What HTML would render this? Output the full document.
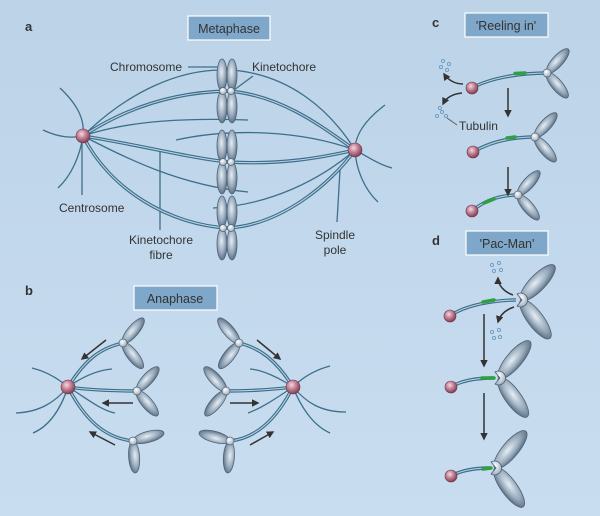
<!DOCTYPE html>
<html><head><meta charset="utf-8"><style>
html,body{margin:0;padding:0;}
body{width:600px;height:516px;overflow:hidden;background:#c6dbee;}
svg{display:block}
text{font-family:"Liberation Sans",sans-serif;fill:#333;}
</style></head><body>
<svg width="600" height="516" viewBox="0 0 600 516" xmlns="http://www.w3.org/2000/svg">
<defs>
<linearGradient id="bg" x1="0" y1="0" x2="0" y2="1"><stop offset="0" stop-color="#bcd3e8"/><stop offset="1" stop-color="#c9ddf0"/></linearGradient>
<radialGradient id="chr" cx="0.45" cy="0.4" r="0.6"><stop offset="0" stop-color="#e6eef5"/><stop offset="0.6" stop-color="#9aacbd"/><stop offset="1" stop-color="#5e7286"/></radialGradient>
<radialGradient id="pole" cx="0.4" cy="0.35" r="0.65"><stop offset="0" stop-color="#f4d8e0"/><stop offset="0.5" stop-color="#c27f94"/><stop offset="1" stop-color="#7e3f54"/></radialGradient>
<radialGradient id="kin" cx="0.4" cy="0.35" r="0.7"><stop offset="0" stop-color="#ffffff"/><stop offset="1" stop-color="#9aa9b6"/></radialGradient>
<marker id="ah" viewBox="0 0 10 10" refX="8" refY="5" markerWidth="5" markerHeight="5" orient="auto"><path d="M0,0 L10,5 L0,10 z" fill="#333"/></marker>
<g id="arm"><ellipse cx="16" cy="0" rx="16" ry="5.5" fill="url(#chr)" stroke="#4f6376" stroke-width="0.8"/></g>
<g id="armL"><ellipse cx="24" cy="0" rx="24" ry="8" fill="url(#chr)" stroke="#4f6376" stroke-width="0.8"/></g>
<g id="mchr">
<ellipse cx="-5" cy="-16" rx="5" ry="16" fill="url(#chr)" stroke="#4f6376" stroke-width="0.8"/>
<ellipse cx="5" cy="-16" rx="5" ry="16" fill="url(#chr)" stroke="#4f6376" stroke-width="0.8"/>
<ellipse cx="-5" cy="16" rx="5" ry="16" fill="url(#chr)" stroke="#4f6376" stroke-width="0.8"/>
<ellipse cx="5" cy="16" rx="5" ry="16" fill="url(#chr)" stroke="#4f6376" stroke-width="0.8"/>
<circle cx="-4" cy="0" r="3.5" fill="url(#kin)" stroke="#4f6376" stroke-width="0.7"/>
<circle cx="4" cy="0" r="3.5" fill="url(#kin)" stroke="#4f6376" stroke-width="0.7"/>
</g>
</defs>
<rect width="600" height="516" fill="url(#bg)"/>

<g fill="none" stroke="#3d6f8a" stroke-width="1.3">
<path d="M83,136 C130,90 180,70 222,70"/>
<path d="M83,136 C130,120 190,118 248,120"/>
<path d="M83,136 C130,160 180,185 248,192"/>
<path d="M232,70 C290,75 330,110 355,150"/>
<path d="M176,140 C230,128 300,130 355,150"/>
<path d="M213,208 C270,205 320,180 355,150"/>
<path d="M60,88 C78,105 85,120 83,136 C80,155 72,175 58,188"/>
<path d="M43,130 C60,138 72,138 83,136"/>
<path d="M385,105 C365,120 355,135 355,150 C356,170 365,190 378,202"/>
<path d="M355,150 C370,158 380,165 392,168"/>
<path d="M82,136 L82,195"/>
<path d="M160,150 L160,230"/>
<path d="M340,170 L337,222"/>
<path d="M188,67 L218,67"/>
<path d="M253,76 L234,90"/>
<path d="M32,368 C48,372 60,380 68,387 C55,402 40,412 16,413"/>
<path d="M68,387 C62,405 52,425 33,433"/>
<path d="M68,387 C85,375 100,370 112,369"/>
<path d="M68,387 C85,397 100,410 115,413"/>
<path d="M330,366 C315,370 302,378 293,387 C306,402 320,412 346,412"/>
<path d="M293,387 C300,405 312,425 330,433"/>
<path d="M293,387 C278,377 262,370 250,369"/>
<path d="M293,387 C278,397 262,408 248,413"/>
</g>
<g fill="none">
<g stroke="#3d6f8a" stroke-width="3.4">
<path d="M83,136 C130,105 180,92 228,91"/>
<path d="M83,136 C140,145 190,158 228,162"/>
<path d="M83,136 C110,190 170,225 228,228"/>
<path d="M228,91 C280,95 320,125 355,150"/>
<path d="M228,162 C280,165 320,158 355,150"/>
<path d="M228,228 C280,225 330,185 355,150"/>
<path d="M68,387 C85,360 100,348 123,343"/>
<path d="M68,387 C90,390 115,391 137,391"/>
<path d="M68,387 C85,420 105,438 133,441"/>
<path d="M293,387 C276,360 260,348 239,343"/>
<path d="M293,387 C270,390 248,391 226,391"/>
<path d="M293,387 C276,420 256,438 230,441"/>
<path d="M472,88 C490,78 520,73 547,73"/>
<path d="M473,152 C490,142 510,137 535,137"/>
<path d="M472,211 C485,200 500,195 518,195"/>
<path d="M450,316 C465,305 495,300 516,300"/>
<path d="M451,387 C462,380 478,378 494,378"/>
<path d="M451,476 C462,470 476,468 490,468"/>
</g>
<g stroke="#b9d3e6" stroke-width="1.1">
<path d="M83,136 C130,105 180,92 228,91"/>
<path d="M83,136 C140,145 190,158 228,162"/>
<path d="M83,136 C110,190 170,225 228,228"/>
<path d="M228,91 C280,95 320,125 355,150"/>
<path d="M228,162 C280,165 320,158 355,150"/>
<path d="M228,228 C280,225 330,185 355,150"/>
<path d="M68,387 C85,360 100,348 123,343"/>
<path d="M68,387 C90,390 115,391 137,391"/>
<path d="M68,387 C85,420 105,438 133,441"/>
<path d="M293,387 C276,360 260,348 239,343"/>
<path d="M293,387 C270,390 248,391 226,391"/>
<path d="M293,387 C276,420 256,438 230,441"/>
<path d="M472,88 C490,78 520,73 547,73"/>
<path d="M473,152 C490,142 510,137 535,137"/>
<path d="M472,211 C485,200 500,195 518,195"/>
<path d="M450,316 C465,305 495,300 516,300"/>
<path d="M451,387 C462,380 478,378 494,378"/>
<path d="M451,476 C462,470 476,468 490,468"/>
</g>
</g>
<g stroke="#2ea043" stroke-width="3.5" stroke-linecap="round">
<path d="M515,73.5 L525,73"/>
<path d="M507,138 L515,137"/>
<path d="M484,203 L494,199"/>
<path d="M483,302 L494,300"/>
<path d="M482,378 L494,378"/>
<path d="M483,469 L491,468"/>
</g>

<use href="#mchr" x="227" y="91"/>
<use href="#mchr" x="227" y="162"/>
<use href="#mchr" x="227" y="228"/>

<g transform="translate(123,343)"><use href="#arm" transform="rotate(-50)"/><use href="#arm" transform="rotate(52)"/></g>
<g transform="translate(137,391)"><use href="#arm" transform="rotate(-48)"/><use href="#arm" transform="rotate(50)"/></g>
<g transform="translate(133,441)"><use href="#arm" transform="rotate(-15)"/><use href="#arm" transform="rotate(86)"/></g>
<g transform="translate(239,343)"><use href="#arm" transform="rotate(-130)"/><use href="#arm" transform="rotate(128)"/></g>
<g transform="translate(226,391)"><use href="#arm" transform="rotate(-132)"/><use href="#arm" transform="rotate(130)"/></g>
<g transform="translate(230,441)"><use href="#arm" transform="rotate(195)"/><use href="#arm" transform="rotate(94)"/></g>
<g fill="url(#kin)" stroke="#4f6376" stroke-width="0.7">
<circle cx="123" cy="343" r="4"/><circle cx="137" cy="391" r="4"/><circle cx="133" cy="441" r="4"/>
<circle cx="239" cy="343" r="4"/><circle cx="226" cy="391" r="4"/><circle cx="230" cy="441" r="4"/>
</g>

<g transform="translate(547,73)"><use href="#arm" transform="rotate(-48)"/><use href="#arm" transform="rotate(50)"/></g>
<g transform="translate(535,137)"><use href="#arm" transform="rotate(-48)"/><use href="#arm" transform="rotate(50)"/></g>
<g transform="translate(518,195)"><use href="#arm" transform="rotate(-48)"/><use href="#arm" transform="rotate(50)"/></g>
<g fill="url(#kin)" stroke="#4f6376" stroke-width="0.7">
<circle cx="547" cy="73" r="4"/><circle cx="535" cy="137" r="4"/><circle cx="518" cy="195" r="4"/>
</g>
<g transform="translate(521,300)"><use href="#armL" transform="rotate(-46)"/><use href="#armL" transform="rotate(53)"/></g>
<g transform="translate(499,378)"><use href="#armL" transform="rotate(-50)"/><use href="#armL" transform="rotate(54)"/></g>
<g transform="translate(495,468)"><use href="#armL" transform="rotate(-50)"/><use href="#armL" transform="rotate(54)"/></g>
<g fill="url(#kin)" stroke="#4f6376" stroke-width="0.8">
<path d="M517,294 A7,7 0 1 1 517,306 L522,300 Z"/>
<path d="M495,372 A7,7 0 1 1 495,384 L500,378 Z"/>
<path d="M491,462 A7,7 0 1 1 491,474 L496,468 Z"/>
</g>

<g fill="url(#pole)" stroke="#6b3447" stroke-width="0.6">
<circle cx="83" cy="136" r="7"/><circle cx="355" cy="150" r="7"/>
<circle cx="68" cy="387" r="7"/><circle cx="293" cy="387" r="7"/>
<circle cx="472" cy="88" r="6"/><circle cx="473" cy="152" r="6"/><circle cx="472" cy="211" r="6"/>
<circle cx="450" cy="316" r="6"/><circle cx="451" cy="387" r="6"/><circle cx="451" cy="476" r="6"/>
</g>

<g stroke="#333" stroke-width="1.5" fill="none" marker-end="url(#ah)">
<path d="M106,340 L82,359"/><path d="M133,403 L103,403"/><path d="M115,445 L90,432"/>
<path d="M257,340 L280,359"/><path d="M230,403 L258,403"/><path d="M250,445 L273,432"/>
<path d="M508,88 L508,116"/><path d="M508,167 L508,195"/>
<path d="M484,314 L484,366"/><path d="M484,393 L484,439"/>
<path d="M463,84 C455,84 448,80 444,74"/>
<path d="M462,93 C452,94 446,98 443,104"/>
<path d="M513,295 C504,292 498,285 498,278"/>
<path d="M514,307 C505,310 500,315 498,322"/>
</g>
<g fill="none" stroke="#6a9cc4" stroke-width="0.9">
<circle cx="443" cy="61" r="1.6"/><circle cx="449" cy="64" r="1.6"/><circle cx="441" cy="67" r="1.6"/><circle cx="447" cy="70" r="1.6"/>
<circle cx="437" cy="116" r="1.6"/><circle cx="442" cy="112" r="1.6"/><circle cx="446" cy="116" r="1.6"/><circle cx="440" cy="108" r="1.6"/>
<circle cx="492" cy="265" r="1.6"/><circle cx="499" cy="263" r="1.6"/><circle cx="494" cy="271" r="1.6"/><circle cx="501" cy="270" r="1.6"/>
<circle cx="492" cy="332" r="1.6"/><circle cx="499" cy="330" r="1.6"/><circle cx="494" cy="338" r="1.6"/><circle cx="500" cy="337" r="1.6"/>
</g>
<path d="M447,118 L457,125" stroke="#555" stroke-width="0.8"/>

<g>
<rect x="188" y="16" width="82" height="24" fill="#7fa7c9" stroke="#fff" stroke-width="1.2"/>
<rect x="134" y="286" width="83" height="24" fill="#7fa7c9" stroke="#fff" stroke-width="1.2"/>
<rect x="465" y="13" width="83" height="24" fill="#7fa7c9" stroke="#fff" stroke-width="1.2"/>
<rect x="466" y="231" width="82" height="24" fill="#7fa7c9" stroke="#fff" stroke-width="1.2"/>
</g>
<g font-size="12.5" text-anchor="middle">
<text x="229" y="33">Metaphase</text>
<text x="175" y="303">Anaphase</text>
<text x="506" y="30">'Reeling in'</text>
<text x="507" y="248">'Pac-Man'</text>
</g>
<g font-size="12">
<text x="110" y="71">Chromosome</text>
<text x="252" y="71">Kinetochore</text>
<text x="59" y="212">Centrosome</text>
<text x="161" y="244" text-anchor="middle">Kinetochore</text>
<text x="161" y="259" text-anchor="middle">fibre</text>
<text x="335" y="239" text-anchor="middle">Spindle</text>
<text x="335" y="254" text-anchor="middle">pole</text>
<text x="459" y="130">Tubulin</text>
</g>
<g font-size="13" font-weight="bold">
<text x="25" y="31">a</text>
<text x="25" y="295">b</text>
<text x="432" y="27">c</text>
<text x="432" y="245">d</text>
</g>
</svg>
</body></html>
